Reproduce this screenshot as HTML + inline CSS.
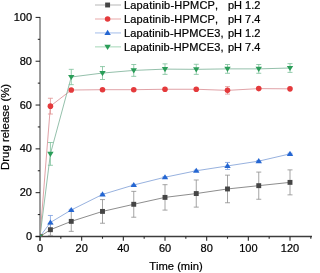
<!DOCTYPE html>
<html><head><meta charset="utf-8"><style>
html,body{margin:0;padding:0;background:#fff;}
body{width:312px;height:273px;overflow:hidden;}
svg{display:block;will-change:transform;}
text{font-family:"Liberation Sans",sans-serif;fill:#000;stroke:#000;stroke-width:0.22px;font-kerning:none;}
</style></head><body>
<svg width="312" height="273" viewBox="0 0 312 273">
<rect width="312" height="273" fill="#fff"/>

<path d="M40 17V240.8" stroke="#3a3a3a" stroke-width="1.0" fill="none"/>
<path d="M35.6 236.5H312" stroke="#3c3c3c" stroke-width="1.35" fill="none"/>
<path d="M35.60 236.50H40" stroke="#1e1e1e" stroke-width="1.0"/>
<text x="32" y="240.00" font-size="11" text-anchor="end">0</text>
<path d="M37.80 214.59H40" stroke="#1e1e1e" stroke-width="1.0"/>
<path d="M35.60 192.68H40" stroke="#1e1e1e" stroke-width="1.0"/>
<text x="32" y="196.18" font-size="11" text-anchor="end">20</text>
<path d="M37.80 170.77H40" stroke="#1e1e1e" stroke-width="1.0"/>
<path d="M35.60 148.86H40" stroke="#1e1e1e" stroke-width="1.0"/>
<text x="32" y="152.36" font-size="11" text-anchor="end">40</text>
<path d="M37.80 126.95H40" stroke="#1e1e1e" stroke-width="1.0"/>
<path d="M35.60 105.04H40" stroke="#1e1e1e" stroke-width="1.0"/>
<text x="32" y="108.54" font-size="11" text-anchor="end">60</text>
<path d="M37.80 83.13H40" stroke="#1e1e1e" stroke-width="1.0"/>
<path d="M35.60 61.22H40" stroke="#1e1e1e" stroke-width="1.0"/>
<text x="32" y="64.72" font-size="11" text-anchor="end">80</text>
<path d="M37.80 39.31H40" stroke="#1e1e1e" stroke-width="1.0"/>
<path d="M35.60 17.40H40" stroke="#1e1e1e" stroke-width="1.0"/>
<text x="32" y="20.90" font-size="11" text-anchor="end">100</text>
<path d="M40.00 236.5V240.80" stroke="#2a2a2a" stroke-width="1.1"/>
<text x="40.00" y="251.7" font-size="11" text-anchor="middle">0</text>
<path d="M60.83 236.5V238.70" stroke="#2a2a2a" stroke-width="1.1"/>
<path d="M81.67 236.5V240.80" stroke="#2a2a2a" stroke-width="1.1"/>
<text x="81.67" y="251.7" font-size="11" text-anchor="middle">20</text>
<path d="M102.50 236.5V238.70" stroke="#2a2a2a" stroke-width="1.1"/>
<path d="M123.33 236.5V240.80" stroke="#2a2a2a" stroke-width="1.1"/>
<text x="123.33" y="251.7" font-size="11" text-anchor="middle">40</text>
<path d="M144.17 236.5V238.70" stroke="#2a2a2a" stroke-width="1.1"/>
<path d="M165.00 236.5V240.80" stroke="#2a2a2a" stroke-width="1.1"/>
<text x="165.00" y="251.7" font-size="11" text-anchor="middle">60</text>
<path d="M185.83 236.5V238.70" stroke="#2a2a2a" stroke-width="1.1"/>
<path d="M206.67 236.5V240.80" stroke="#2a2a2a" stroke-width="1.1"/>
<text x="206.67" y="251.7" font-size="11" text-anchor="middle">80</text>
<path d="M227.50 236.5V238.70" stroke="#2a2a2a" stroke-width="1.1"/>
<path d="M248.33 236.5V240.80" stroke="#2a2a2a" stroke-width="1.1"/>
<text x="248.33" y="251.7" font-size="11" text-anchor="middle">100</text>
<path d="M269.17 236.5V238.70" stroke="#2a2a2a" stroke-width="1.1"/>
<path d="M290.00 236.5V240.80" stroke="#2a2a2a" stroke-width="1.1"/>
<text x="290.00" y="251.7" font-size="11" text-anchor="middle">120</text>
<path d="M310.83 236.5V238.70" stroke="#2a2a2a" stroke-width="1.1"/>
<defs><clipPath id="pc"><rect x="40.3" y="0" width="280" height="236.2"/></clipPath></defs><g clip-path="url(#pc)">
<polyline points="40.00,236.50 50.42,229.71 71.25,221.38 102.50,211.41 133.75,204.29 165.00,197.39 196.25,193.56 227.50,188.96 258.75,185.67 290.00,182.38" fill="none" stroke="#707070" stroke-width="0.8"/>
<polyline points="40.00,236.50 50.42,106.14 71.25,90.03 102.50,89.70 133.75,89.70 165.00,89.26 196.25,89.26 227.50,90.36 258.75,88.61 290.00,88.83" fill="none" stroke="#d88a90" stroke-width="0.8"/>
<polyline points="40.00,236.50 50.42,222.48 71.25,209.99 102.50,194.43 133.75,185.01 165.00,177.23 196.25,170.77 227.50,165.95 258.75,161.13 290.00,153.90" fill="none" stroke="#7c9dd6" stroke-width="0.8"/>
<polyline points="40.00,236.50 50.42,153.90 71.25,77.00 102.50,73.05 133.75,70.42 165.00,69.11 196.25,69.33 227.50,68.89 258.75,68.89 290.00,68.01" fill="none" stroke="#78b096" stroke-width="0.8"/>
<path d="M50.42 224.01V235.40M47.92 224.01H52.92M47.92 235.40H52.92" stroke="#8e8e8e" stroke-width="0.8" fill="none"/>
<path d="M71.25 211.41V231.35M68.75 211.41H73.75M68.75 231.35H73.75" stroke="#8e8e8e" stroke-width="0.8" fill="none"/>
<path d="M102.50 199.58V223.24M100.00 199.58H105.00M100.00 223.24H105.00" stroke="#8e8e8e" stroke-width="0.8" fill="none"/>
<path d="M133.75 191.37V217.22M131.25 191.37H136.25M131.25 217.22H136.25" stroke="#8e8e8e" stroke-width="0.8" fill="none"/>
<path d="M165.00 184.68V210.10M162.50 184.68H167.50M162.50 210.10H167.50" stroke="#8e8e8e" stroke-width="0.8" fill="none"/>
<path d="M196.25 179.97V207.14M193.75 179.97H198.75M193.75 207.14H198.75" stroke="#8e8e8e" stroke-width="0.8" fill="none"/>
<path d="M227.50 175.15V202.76M225.00 175.15H230.00M225.00 202.76H230.00" stroke="#8e8e8e" stroke-width="0.8" fill="none"/>
<path d="M258.75 172.08V199.25M256.25 172.08H261.25M256.25 199.25H261.25" stroke="#8e8e8e" stroke-width="0.8" fill="none"/>
<path d="M290.00 169.89V194.87M287.50 169.89H292.50M287.50 194.87H292.50" stroke="#8e8e8e" stroke-width="0.8" fill="none"/>
<path d="M50.42 98.25V114.02M47.92 98.25H52.92M47.92 114.02H52.92" stroke="#e09090" stroke-width="0.8" fill="none"/>
<path d="M227.50 86.64V94.09M225.00 86.64H230.00M225.00 94.09H230.00" stroke="#e09090" stroke-width="0.8" fill="none"/>
<path d="M50.42 215.47V229.49M47.92 215.47H52.92M47.92 229.49H52.92" stroke="#7a9ee0" stroke-width="0.8" fill="none"/>
<path d="M71.25 209.33V210.65M68.75 209.33H73.75M68.75 210.65H73.75" stroke="#7a9ee0" stroke-width="0.8" fill="none"/>
<path d="M102.50 193.78V195.09M100.00 193.78H105.00M100.00 195.09H105.00" stroke="#7a9ee0" stroke-width="0.8" fill="none"/>
<path d="M133.75 184.35V185.67M131.25 184.35H136.25M131.25 185.67H136.25" stroke="#7a9ee0" stroke-width="0.8" fill="none"/>
<path d="M165.00 176.58V177.89M162.50 176.58H167.50M162.50 177.89H167.50" stroke="#7a9ee0" stroke-width="0.8" fill="none"/>
<path d="M196.25 170.11V171.43M193.75 170.11H198.75M193.75 171.43H198.75" stroke="#7a9ee0" stroke-width="0.8" fill="none"/>
<path d="M227.50 162.44V169.46M225.00 162.44H230.00M225.00 169.46H230.00" stroke="#7a9ee0" stroke-width="0.8" fill="none"/>
<path d="M258.75 160.47V161.79M256.25 160.47H261.25M256.25 161.79H261.25" stroke="#7a9ee0" stroke-width="0.8" fill="none"/>
<path d="M290.00 153.24V154.56M287.50 153.24H292.50M287.50 154.56H292.50" stroke="#7a9ee0" stroke-width="0.8" fill="none"/>
<path d="M50.42 142.51V165.29M47.92 142.51H52.92M47.92 165.29H52.92" stroke="#7abf98" stroke-width="0.8" fill="none"/>
<path d="M71.25 69.33V84.66M68.75 69.33H73.75M68.75 84.66H73.75" stroke="#7abf98" stroke-width="0.8" fill="none"/>
<path d="M102.50 66.59V79.51M100.00 66.59H105.00M100.00 79.51H105.00" stroke="#7abf98" stroke-width="0.8" fill="none"/>
<path d="M133.75 64.51V76.34M131.25 64.51H136.25M131.25 76.34H136.25" stroke="#7abf98" stroke-width="0.8" fill="none"/>
<path d="M165.00 63.85V74.37M162.50 63.85H167.50M162.50 74.37H167.50" stroke="#7abf98" stroke-width="0.8" fill="none"/>
<path d="M196.25 64.29V74.37M193.75 64.29H198.75M193.75 74.37H198.75" stroke="#7abf98" stroke-width="0.8" fill="none"/>
<path d="M227.50 64.51V73.27M225.00 64.51H230.00M225.00 73.27H230.00" stroke="#7abf98" stroke-width="0.8" fill="none"/>
<path d="M258.75 64.51V73.27M256.25 64.51H261.25M256.25 73.27H261.25" stroke="#7abf98" stroke-width="0.8" fill="none"/>
<path d="M290.00 63.63V72.39M287.50 63.63H292.50M287.50 72.39H292.50" stroke="#7abf98" stroke-width="0.8" fill="none"/>
<rect x="37.55" y="234.05" width="4.9" height="4.9" fill="#454545"/>
<rect x="47.97" y="227.26" width="4.9" height="4.9" fill="#454545"/>
<rect x="68.80" y="218.93" width="4.9" height="4.9" fill="#454545"/>
<rect x="100.05" y="208.96" width="4.9" height="4.9" fill="#454545"/>
<rect x="131.30" y="201.84" width="4.9" height="4.9" fill="#454545"/>
<rect x="162.55" y="194.94" width="4.9" height="4.9" fill="#454545"/>
<rect x="193.80" y="191.11" width="4.9" height="4.9" fill="#454545"/>
<rect x="225.05" y="186.51" width="4.9" height="4.9" fill="#454545"/>
<rect x="256.30" y="183.22" width="4.9" height="4.9" fill="#454545"/>
<rect x="287.55" y="179.93" width="4.9" height="4.9" fill="#454545"/>
<circle cx="40.00" cy="236.50" r="2.8" fill="#e43a3c"/>
<circle cx="50.42" cy="106.14" r="2.8" fill="#e43a3c"/>
<circle cx="71.25" cy="90.03" r="2.8" fill="#e43a3c"/>
<circle cx="102.50" cy="89.70" r="2.8" fill="#e43a3c"/>
<circle cx="133.75" cy="89.70" r="2.8" fill="#e43a3c"/>
<circle cx="165.00" cy="89.26" r="2.8" fill="#e43a3c"/>
<circle cx="196.25" cy="89.26" r="2.8" fill="#e43a3c"/>
<circle cx="227.50" cy="90.36" r="2.8" fill="#e43a3c"/>
<circle cx="258.75" cy="88.61" r="2.8" fill="#e43a3c"/>
<circle cx="290.00" cy="88.83" r="2.8" fill="#e43a3c"/>
<path d="M40.00 233.40L43.20 238.60L36.80 238.60Z" fill="#2466d2"/>
<path d="M50.42 219.38L53.62 224.58L47.22 224.58Z" fill="#2466d2"/>
<path d="M71.25 206.89L74.45 212.09L68.05 212.09Z" fill="#2466d2"/>
<path d="M102.50 191.33L105.70 196.53L99.30 196.53Z" fill="#2466d2"/>
<path d="M133.75 181.91L136.95 187.11L130.55 187.11Z" fill="#2466d2"/>
<path d="M165.00 174.13L168.20 179.33L161.80 179.33Z" fill="#2466d2"/>
<path d="M196.25 167.67L199.45 172.87L193.05 172.87Z" fill="#2466d2"/>
<path d="M227.50 162.85L230.70 168.05L224.30 168.05Z" fill="#2466d2"/>
<path d="M258.75 158.03L261.95 163.23L255.55 163.23Z" fill="#2466d2"/>
<path d="M290.00 150.80L293.20 156.00L286.80 156.00Z" fill="#2466d2"/>
<path d="M36.80 234.40L43.20 234.40L40.00 239.60Z" fill="#2a9d58"/>
<path d="M47.22 151.80L53.62 151.80L50.42 157.00Z" fill="#2a9d58"/>
<path d="M68.05 74.90L74.45 74.90L71.25 80.10Z" fill="#2a9d58"/>
<path d="M99.30 70.95L105.70 70.95L102.50 76.15Z" fill="#2a9d58"/>
<path d="M130.55 68.32L136.95 68.32L133.75 73.52Z" fill="#2a9d58"/>
<path d="M161.80 67.01L168.20 67.01L165.00 72.21Z" fill="#2a9d58"/>
<path d="M193.05 67.23L199.45 67.23L196.25 72.43Z" fill="#2a9d58"/>
<path d="M224.30 66.79L230.70 66.79L227.50 71.99Z" fill="#2a9d58"/>
<path d="M255.55 66.79L261.95 66.79L258.75 71.99Z" fill="#2a9d58"/>
<path d="M286.80 65.91L293.20 65.91L290.00 71.11Z" fill="#2a9d58"/>
</g>
<text x="175.9" y="269.8" font-size="11.2" text-anchor="middle">Time (min)</text>
<text transform="translate(9.2 126.9) rotate(-90)" x="0" y="0" font-size="11.4" text-anchor="middle">Drug release (%)</text>
<path d="M95 5.00H121" stroke="#d2d2d2" stroke-width="1.6"/>
<rect x="105.15" y="2.55" width="4.9" height="4.9" fill="#454545"/>
<text x="123.9" y="9.40" font-size="11" letter-spacing="0.21">Lapatinib-HPMCP,</text>
<text x="228.0" y="9.40" font-size="11">pH 1.2</text>
<path d="M95 19.00H121" stroke="#f2caca" stroke-width="1.6"/>
<circle cx="107.60" cy="19.00" r="2.8" fill="#e43a3c"/>
<text x="123.9" y="23.40" font-size="11" letter-spacing="0.21">Lapatinib-HPMCP,</text>
<text x="228.0" y="23.40" font-size="11">pH 7.4</text>
<path d="M95 32.90H121" stroke="#c6d6f2" stroke-width="1.6"/>
<path d="M107.60 29.80L110.80 35.00L104.40 35.00Z" fill="#2466d2"/>
<text x="123.9" y="37.30" font-size="11" letter-spacing="0.15">Lapatinib-HPMCE3,</text>
<text x="228.0" y="37.30" font-size="11">pH 1.2</text>
<path d="M95 46.80H121" stroke="#c6e6d2" stroke-width="1.6"/>
<path d="M104.40 44.70L110.80 44.70L107.60 49.90Z" fill="#2a9d58"/>
<text x="123.9" y="51.20" font-size="11" letter-spacing="0.15">Lapatinib-HPMCE3,</text>
<text x="228.0" y="51.20" font-size="11">pH 7.4</text>
</svg></body></html>
